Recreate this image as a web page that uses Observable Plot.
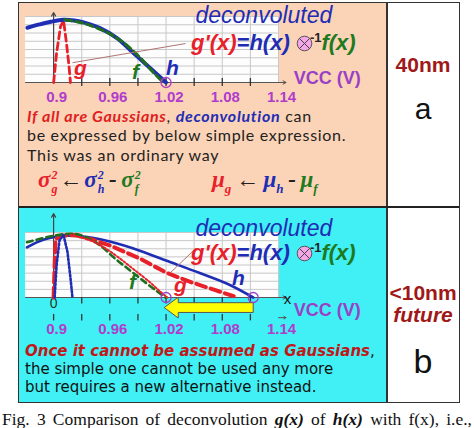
<!DOCTYPE html>
<html><head><meta charset="utf-8">
<script src="https://cdn.jsdelivr.net/npm/d3@7"></script>
<script src="https://cdn.jsdelivr.net/npm/@observablehq/plot@0.6"></script>
<style>
body{margin:0;background:#fff;}
#page{position:relative;width:474px;height:428px;overflow:hidden;font-family:"Liberation Sans",Arial,sans-serif;}
.abs{position:absolute;}
.chart{position:absolute;}
.chart svg{overflow:visible;}
.ln{position:absolute;white-space:nowrap;line-height:1;}
.ss{display:inline-flex;flex-direction:column;vertical-align:middle;font-size:12px;margin-left:1px;}
.ss span{display:block;height:14px;line-height:14px;}
.eq{position:absolute;font:italic bold 23px 'Liberation Serif';white-space:nowrap;line-height:28px;top:166px;}
</style></head><body>
<div id="page">
  <div class="abs" style="left:19px;top:3px;width:367px;height:204px;background:#fbd3b6"></div>
  <div class="abs" style="left:19px;top:207px;width:367px;height:195px;background:#40f0f4"></div>
  <div class="abs" style="left:18px;top:2px;width:440px;height:399px;border:1.5px solid #333"></div>
  <div class="abs" style="left:386px;top:3px;width:1.5px;height:399px;background:#333"></div>
  <div class="abs" style="left:19px;top:206px;width:440px;height:2px;background:#222"></div>
  <div id="chartA" class="chart" style="left:19px;top:3px"></div>
  <div id="chartB" class="chart" style="left:19px;top:208px"></div>

  <div class="abs" id="formA" style="left:191px;top:30px;font:italic bold 22px 'Liberation Sans';white-space:nowrap"></div>
  <div class="abs" id="formB" style="left:191px;top:240px;font:italic bold 22px 'Liberation Sans';white-space:nowrap"></div>

  <div id="textA" style="font:16px 'Lato';letter-spacing:0.7px;color:#222"></div>
  <div class="eq" id="eqA1" style="left:38px"></div>
  <div class="eq" id="eqA2" style="left:212px"></div>
  <div id="textB" style="font:15px 'DejaVu Sans';color:#111"></div>

  <div class="abs" id="rightA1" style="left:387px;top:53px;width:72px;text-align:center;font:bold 21px 'Liberation Sans';color:#a01818"></div>
  <div class="abs" id="rightA2" style="left:387px;top:92px;width:72px;text-align:center;font:30px 'Liberation Sans';color:#111"></div>
  <div class="abs" id="rightB1" style="left:387px;top:282px;width:72px;text-align:center;font:bold 21px 'Liberation Sans';color:#a01818;line-height:22px"></div>
  <div class="abs" id="rightB2" style="left:387px;top:342px;width:72px;text-align:center;font:34px 'Liberation Sans';color:#111"></div>

  <div class="abs" id="caption" style="left:2px;top:409px;width:470px;font:17.5px 'Liberation Serif';text-align:justify;text-align-last:justify;white-space:nowrap;color:#111"></div>
</div>
<script>
// ---------- data ----------
const xDomain = [0.87, 1.14];
const tickValues = [0.93, 0.96, 0.99, 1.02, 1.05, 1.08, 1.11, 1.14];
const tickLabels = [0.9, 0.96, 1.02, 1.08, 1.14];
const gridY = [0.125, 0.25, 0.375, 0.5, 0.625, 0.75, 0.875, 1];

// panel a (40nm)
const hCurveA = [[0.872,0.83],[0.885,0.88],[0.897,0.92],[0.91,0.95],[0.922,0.94],[0.932,0.91],[0.95,0.82],[0.968,0.67],[0.985,0.45],[1.002,0.23],[1.02,0]];
const fCurveA = [[0.912,0.95],[0.925,0.92],[0.936,0.88],[0.957,0.76],[0.974,0.61],[0.992,0.38],[1.006,0.16],[1.017,0]];
const gCurveA = [[0.9,0],[0.9032,0.45],[0.9074,0.85],[0.9106,0.94],[0.9137,0.6],[0.9164,0.25],[0.918,0]];
const circlesA = [[1.02,0]];
const curveLabelsA = [{t:"g",x:0.9287,y:0.21,c:"#e8202a"},{t:"f",x:0.9874,y:0.15,c:"#1e7a1e"},{t:"h",x:1.0269,y:0.22,c:"#1f2db5"}];
const connectorA = [{x1:0.9202,y1:0.30,x2:1.0408,y2:0.59}];

// panel b (<10nm future)
const hCurveB = [[0.8715,0.77],[0.889,0.89],[0.9148,0.95],[0.936,0.93],[0.96,0.86],[0.992,0.72],[1.0236,0.55],[1.0553,0.38],[1.087,0.2],[1.113,0]];
const gpCurveB = [[0.9,0],[0.902,0.9],[0.9095,0.95],[0.9232,0.96],[0.939,0.9],[0.96,0.8],[0.992,0.6],[1.0204,0.38],[1.0479,0.23],[1.0711,0.12],[1.0922,0.02]];
const fCurveB = [[0.8715,0.85],[0.9,0.95],[0.9211,0.98],[0.934,0.93],[0.9496,0.8],[0.9655,0.6],[0.9813,0.42],[0.9972,0.24],[1.0099,0.1],[1.0194,0]];
const gCurveB = [[0.9179,0.96],[0.939,0.88],[0.9549,0.76],[0.9707,0.6],[0.9866,0.42],[1.0024,0.24],[1.013,0.1],[1.0215,0]];
const spikeB = [[0.9011,0],[0.9032,0.5],[0.9063,0.88],[0.9106,0.96],[0.9148,0.7],[0.918,0.3],[0.9201,0]];
const circlesB = [[1.02,0],[1.113,0]];
const curveLabelsB = [{t:"f",x:0.9842,y:0.23,c:"#1e7a1e"},{t:"g",x:1.0354,y:0.185,c:"#e8202a"},{t:"h",x:1.0973,y:0.29,c:"#1f2db5"}];
const connectorB = [{x1:1.0493,y1:0.72,x2:1.0248,y2:0.385}];
const shiftArrow = {tip:1.018, tail:1.113, yMid:-0.155};

// ---------- helpers ----------
const X = d => d[0], Y = d => d[1];
const purple = "#b03ccc";
function axisMarks(o){
  return [
    Plot.rect([{x1:xDomain[0],x2:xDomain[1],y1:0,y2:1}],{x1:"x1",x2:"x2",y1:"y1",y2:"y2",fill:"#fdfdfd"}),
    Plot.ruleY(gridY,{x1:()=>xDomain[0],x2:()=>xDomain[1],stroke:"#c8c8c8",strokeWidth:1}),
    Plot.ruleX(tickValues,{y1:()=>0,y2:()=>1,stroke:"#c8c8c8",strokeWidth:1}),
    Plot.arrow([0],{x1:()=>xDomain[0],y1:()=>0,x2:()=>1.148,y2:()=>0,stroke:"#555",strokeWidth:1,headLength:5}),
    Plot.arrow([0],{x1:()=>0.9,y1:()=>0,x2:()=>0.9,y2:()=>o.yTop,stroke:"#444",strokeWidth:1.2,headLength:5}),
    Plot.ruleX(tickValues.slice(0,-1),{y1:()=>o.t1,y2:()=>o.t2,stroke:"#333",strokeWidth:1.3}),
    Plot.text(tickLabels,{x:d=>d,y:()=>o.labY,text:d=>String(d),dx:3,fill:purple,fontSize:15,fontWeight:"bold",fontFamily:"Liberation Sans"}),
    Plot.text(["VCC (V)"],{x:()=>1.192,y:()=>o.vccY,text:d=>d,fill:"#9a40c8",fontSize:18,fontWeight:"bold",fontFamily:"Liberation Sans"}),
    Plot.text(["deconvoluted"],{x:()=>1.0514,y:()=>o.decY,text:d=>d,textAnchor:"start",fill:"#1f2db5",fontSize:23,fontStyle:"italic",fontFamily:"Liberation Sans"})
  ];
}
function labelMarks(labels, conn){
  return [
    Plot.link(conn,{x1:"x1",y1:"y1",x2:"x2",y2:"y2",stroke:"#b07474",strokeWidth:1}),
    Plot.text(labels,{x:"x",y:"y",text:"t",fill:"c",fontSize:21,fontWeight:"bold",fontStyle:"italic",fontFamily:"Liberation Sans"})
  ];
}

// ---------- chart a ----------
const chartA = Plot.plot({
  width:367,height:105,margin:0,
  x:{domain:xDomain,range:[6,259],axis:null},
  y:{domain:[0,1],range:[79,13],axis:null},
  style:{background:"transparent",overflow:"visible"},
  marks:[
    ...axisMarks({yTop:1.06,t1:0.06,t2:-0.06,labY:-0.22,vccY:0.06,decY:1.02}),
    Plot.line(gCurveA,{x:X,y:Y,stroke:"#e8202a",strokeWidth:2.8,strokeDasharray:"7,4"}),
    Plot.line(hCurveA,{x:X,y:Y,stroke:"#1f2db5",strokeWidth:4,curve:"catmull-rom"}),
    Plot.line(fCurveA,{x:X,y:Y,stroke:"#1e6e1e",strokeWidth:3,strokeDasharray:"7,4",curve:"catmull-rom"}),
    Plot.dot(circlesA,{x:X,y:Y,r:5,stroke:"#b040c0",strokeWidth:1.3,fill:"none"}),
    ...labelMarks(curveLabelsA, connectorA)
  ]
});
document.getElementById("chartA").append(chartA);

// ---------- chart b ----------
const a = shiftArrow, hw = 0.075, hh = 0.16, hl = 0.015;
const arrowPoly = [[a.tail,a.yMid+hw],[a.tip+hl,a.yMid+hw],[a.tip+hl,a.yMid+hh],[a.tip,a.yMid],[a.tip+hl,a.yMid-hh],[a.tip+hl,a.yMid-hw],[a.tail,a.yMid-hw],[a.tail,a.yMid+hw]];
const chartB = Plot.plot({
  width:367,height:130,margin:0,
  x:{domain:xDomain,range:[6,259],axis:null},
  y:{domain:[0,1],range:[89,24],axis:null},
  style:{background:"transparent",overflow:"visible"},
  marks:[
    ...axisMarks({yTop:1.29,t1:0,t2:-0.1,labY:-0.48,vccY:-0.2,decY:1.06}),
    Plot.ruleX([0.9, ...tickValues.slice(0,-1)],{y1:()=>-0.26,y2:()=>-0.36,stroke:"#333",strokeWidth:1.3}),
    Plot.arrow([0],{x1:()=>1.14,y1:()=>-0.31,x2:()=>1.148,y2:()=>-0.31,stroke:"#555",strokeWidth:1,headLength:5}),
    Plot.text(["x"],{x:()=>1.1496,y:()=>-0.02,text:d=>d,fill:"#111",fontSize:15,fontFamily:"Liberation Sans"}),
    Plot.text(["0"],{x:()=>0.9,y:()=>-0.1,text:d=>d,fill:"#1d3b1d",fontSize:14,fontFamily:"Liberation Sans"}),
    Plot.line(hCurveB,{x:X,y:Y,stroke:"#1f2db5",strokeWidth:2.6,curve:"catmull-rom"}),
    Plot.line(gpCurveB,{x:X,y:Y,stroke:"#e8202a",strokeWidth:4,strokeDasharray:"10,5"}),
    Plot.line(fCurveB,{x:X,y:Y,stroke:"#1e6e1e",strokeWidth:2.6,strokeDasharray:"6,4",curve:"catmull-rom"}),
    Plot.line(gCurveB,{x:X,y:Y,stroke:"#e8202a",strokeWidth:2,strokeDasharray:"2,2",curve:"catmull-rom"}),
    Plot.line(spikeB,{x:X,y:Y,stroke:"#1f2db5",strokeWidth:2.6,strokeDasharray:"2,2"}),
    Plot.line(arrowPoly,{x:X,y:Y,fill:"#ffff00",stroke:"#555",strokeWidth:1}),
    Plot.dot(circlesB,{x:X,y:Y,r:5,stroke:"#a040c8",strokeWidth:1.3,fill:"none"}),
    ...labelMarks(curveLabelsB, connectorB)
  ]
});
document.getElementById("chartB").append(chartB);

// ---------- texts ----------
const otimes = '<svg width="17" height="17" viewBox="0 0 17 17" style="vertical-align:-2px"><circle cx="8.5" cy="8.5" r="7.3" fill="#f4a6e8" stroke="#555" stroke-width="1"/><path d="M3.5 3.5L13.5 13.5M13.5 3.5L3.5 13.5" stroke="#444" stroke-width="1"/></svg>';
const formula = `<span style="color:#e8202a">g'(x)</span><span style="color:#1f2db5">=h(x)</span> ${otimes}<sup style="font-size:13px;color:#222;font-style:normal;margin-left:-3px">-1</sup><span style="color:#1e7a1e">f(x)</span>`;
document.getElementById("formA").innerHTML = formula;
document.getElementById("formB").innerHTML = formula;

function lines(el, left, top, step, arr){
  el.innerHTML = arr.map((h,i)=>`<div class="ln" style="left:${left}px;top:${top+i*step}px">${h}</div>`).join("");
}
lines(document.getElementById("textA"), 27, 108, 19.4, [
  '<span style="color:#e02020;font-weight:bold;font-style:italic">If all are Gaussians</span>, <span style="color:#1f2db5;font-weight:bold;font-style:italic">deconvolution</span> can',
  'be expressed by below simple expression.',
  'This was an ordinary way']);
const ss = s => `<span class="ss"><span>2</span><span>${s}</span></span>`;
const sub = s => `<sub style="font-size:13px">${s}</sub>`;
document.getElementById("eqA1").innerHTML =
  `<span style="color:#e8202a">σ${ss("g")}</span><span style="color:#222;font-style:normal">&#8202;←&#8202;</span><span style="color:#1f2db5">σ${ss("h")}</span><span style="color:#222">&#8201;-&#8201;</span><span style="color:#1e7a1e">σ${ss("f")}</span>`;
document.getElementById("eqA2").innerHTML =
  `<span style="color:#e8202a">μ${sub("g")}</span><span style="color:#222;font-style:normal">&#8201;←&#8201;</span><span style="color:#1f2db5">μ${sub("h")}</span><span style="color:#222">&#8201;-&#8201;</span><span style="color:#1e7a1e">μ${sub("f")}</span>`;
lines(document.getElementById("textB"), 25, 344, 18, [
  '<span style="color:#c01818;font-weight:bold;font-style:italic">Once it cannot be assumed as Gaussians</span>,',
  'the simple one cannot be used any more',
  'but requires a new alternative instead.']);

document.getElementById("rightA1").textContent = "40nm";
document.getElementById("rightA2").textContent = "a";
document.getElementById("rightB1").innerHTML = '&lt;10nm<br><i>future</i>';
document.getElementById("rightB2").textContent = "b";
document.getElementById("caption").innerHTML =
  'Fig. 3 Comparison of deconvolution <b><i>g(x)</i></b> of <b><i>h(x)</i></b> with f(x), i.e.,';
</script>
</body></html>
